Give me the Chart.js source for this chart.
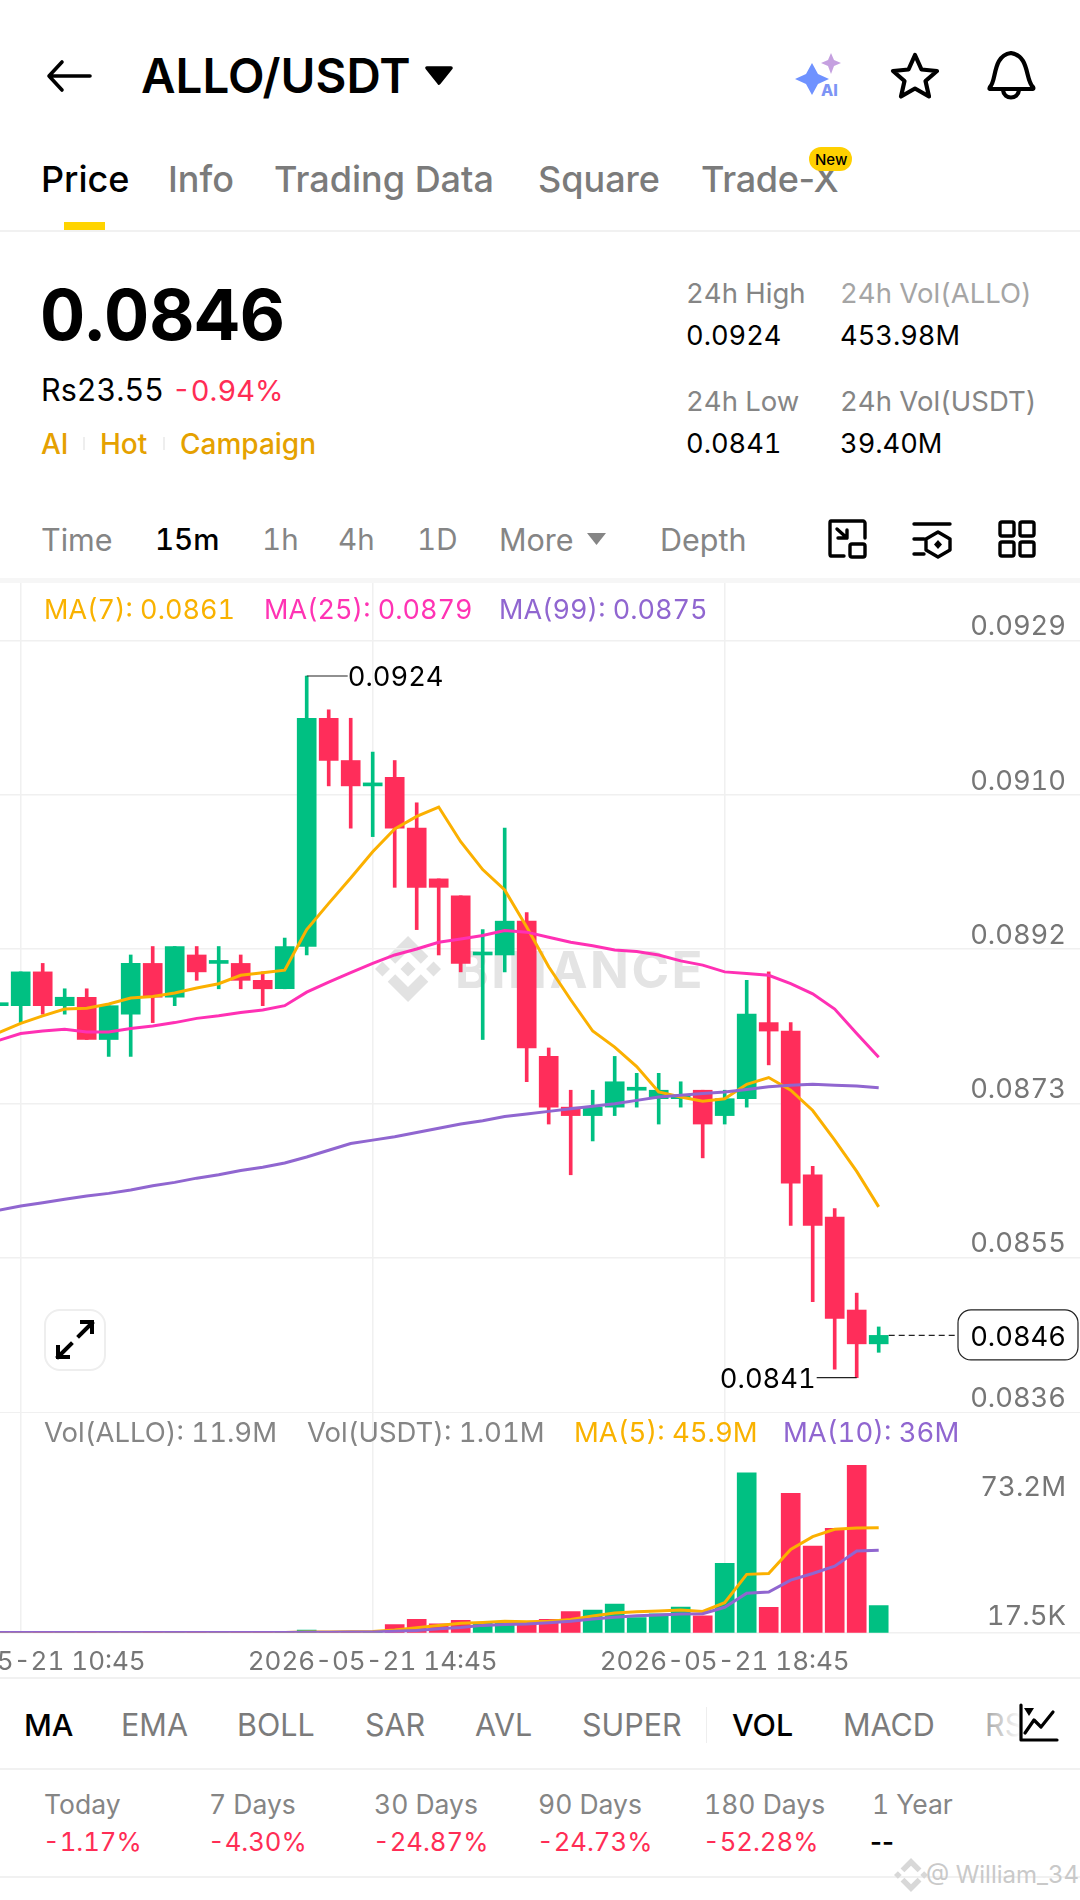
<!DOCTYPE html>
<html>
<head>
<meta charset="utf-8">
<title>ALLO/USDT</title>
<script src="https://cdn.jsdelivr.net/npm/chart.js@4"></script>
<style>
html, body { margin: 0; padding: 0; background: #fff; }
body { width: 1080px; height: 1900px; position: relative; overflow: hidden; font-family: Inter, sans-serif; font-variant-numeric: tabular-nums; }
.t { position: absolute; white-space: nowrap; transform: translateY(-50%); line-height: 1; }
.tab { font-size: 36px; color: #7b7b7b; top: 179px; font-weight: 500; }
.sm { font-size: 27.5px; }
.num { font-size: 27.2px; }
.gray { color: #858585; }
.tf { font-size: 29.5px; top: 540px; color: #858585; }
.tw { font-size: 30.5px; }
.ind { font-size: 30.5px; top: 1725px; color: #7b7b7b; }
.pl { font-size: 26.5px; top: 1804px; color: #858585; }
.pv { font-size: 25.7px; top: 1842px; color: #ff2d55; }
.vl { font-size: 27.5px; top: 1433px; }
.ml { font-size: 27px; top: 609px; }
.sep { position: absolute; left: 0; width: 1080px; height: 2px; background: #f1f1f1; }
.t.k { color: #000; }
svg { position: absolute; overflow: visible; }
canvas { position: absolute; left: 0; }
</style>
</head>
<body>
<!-- header -->
<svg style="left:0;top:0" width="1080" height="240" fill="none" stroke="#000" stroke-width="3.6" stroke-linecap="round" stroke-linejoin="round">
  <path d="M49 76H90M62 62L49 76L62 90"/>
  <path d="M427 68H451L439 83Z" fill="#000"/>
  <path d="M915 55L921.5 69.5L937 71L925.5 81L929 96.5L915 88.5L901 96.5L904.5 81L893 71L908.5 69.5Z" stroke-width="4.2"/>
  <path d="M990 87C997 80 992 56 1011 53C1030 56 1025 80 1033 87C1034 89 1033 89 1031 89H992C989 89 989 89 990 87Z" stroke-width="4.2"/>
  <path d="M1003 90C1004 100 1018 100 1019 90" stroke-width="4.2"/>
  <path d="M812 63L818 74L829 79L818 84L812 95L806 84L795 79L806 74Z" fill="#6f92ff" stroke="none"/>
  <path d="M831 53L834 60L841 63L834 66L831 74L828 66L821 63L828 60Z" fill="#c5a0e0" stroke="none"/>
</svg>
<span class="t" style="left:821px;top:90px;font-size:16px;font-weight:800;color:#7d94f5;">AI</span>
<span class="t k" style="left:141px;top:76px;font-size:47.5px;font-weight:600;">ALLO/USDT</span>

<span class="t tab k" style="left:41px;">Price</span>
<span class="t tab" style="left:168px;">Info</span>
<span class="t tab" style="left:274px;">Trading Data</span>
<span class="t tab" style="left:538px;">Square</span>
<span class="t tab" style="left:701px;font-variant-numeric:normal;font-feature-settings:'tnum' 0;letter-spacing:-0.3px;">Trade-X</span>
<div style="position:absolute;left:809px;top:147px;width:43px;height:24px;border-radius:12px;background:#ffd000;"></div>
<span class="t k" style="left:815px;top:159px;font-size:15px;font-weight:500;">New</span>
<div style="position:absolute;left:64px;top:222px;width:41px;height:8px;background:#ffd400;"></div>
<div class="sep" style="top:230px;"></div>

<!-- price block -->
<span class="t k" style="left:40px;top:315px;font-size:70px;font-weight:700;">0.0846</span>
<span class="t k" style="left:41px;top:390px;font-size:30.5px;">Rs23.55</span>
<span class="t" style="left:172px;top:390px;font-size:29px;color:#ff2d55;">-0.94%</span>
<span class="t" style="left:41px;top:444px;font-size:28px;font-weight:500;color:#e5a100;">AI</span>
<span class="t" style="left:100px;top:444px;font-size:28px;font-weight:500;color:#e5a100;">Hot</span>
<span class="t" style="left:180px;top:444px;font-size:28px;font-weight:500;color:#e5a100;">Campaign</span>
<div style="position:absolute;left:83px;top:437px;width:2px;height:13px;background:#eee;"></div>
<div style="position:absolute;left:163px;top:437px;width:2px;height:13px;background:#eee;"></div>

<span class="t sm gray" style="left:686px;top:294px;">24h High</span>
<span class="t sm" style="left:840px;top:294px;color:#a5a5a5;">24h Vol(ALLO)</span>
<span class="t num k" style="left:686px;top:336px;">0.0924</span>
<span class="t num k" style="left:840px;top:336px;">453.98M</span>
<span class="t sm gray" style="left:686px;top:402px;">24h Low</span>
<span class="t sm gray" style="left:840px;top:402px;">24h Vol(USDT)</span>
<span class="t num k" style="left:686px;top:444px;">0.0841</span>
<span class="t num k" style="left:840px;top:444px;">39.40M</span>

<!-- timeframes -->
<span class="t tf tw" style="left:41px;">Time</span>
<span class="t tf k" style="left:155px;font-weight:500;">15m</span>
<span class="t tf" style="left:262px;">1h</span>
<span class="t tf" style="left:338px;">4h</span>
<span class="t tf" style="left:417px;">1D</span>
<span class="t tf tw" style="left:499px;">More</span>
<span class="t tf tw" style="left:660px;">Depth</span>
<svg style="left:0;top:500px" width="1080" height="70" fill="none" stroke="#000" stroke-width="3.4" stroke-linecap="round" stroke-linejoin="round">
  <path d="M587 33H606L596.5 45Z" fill="#858585" stroke="none"/>
  <path d="M844 56H831C830 56 830 55 830 54V23C830 22 830 21 831 21H863C864 21 865 22 865 23V38"/>
  <rect x="850" y="44" width="15" height="13" rx="2"/>
  <path d="M837 29L847 38M847 30V38H838"/>
  <path d="M914 24H950M914 39H924M914 54H924"/>
  <path d="M938 32L950 39V50L938 57L926 50V39Z"/>
  <path d="M938 40L942 44.500L938 49L934 44.500Z" fill="#000" stroke="none"/>
  <rect x="1000" y="22" width="14" height="14" rx="2"/><rect x="1020" y="22" width="14" height="14" rx="2"/>
  <rect x="1000" y="42" width="14" height="14" rx="2"/><rect x="1020" y="42" width="14" height="14" rx="2"/>
</svg>
<div style="position:absolute;left:0;top:578px;width:1080px;height:5px;background:#f6f6f6;"></div>

<!-- watermark under the candles -->
<svg style="left:375px;top:936px" width="66" height="66" viewBox="0 0 126.61 126.61" fill="#e2e2e2">
  <path d="M38.73 53.2l24.59-24.58 24.6 24.6 14.3-14.31L63.32 0 24.43 38.9z M0 63.31l14.3-14.31 14.31 14.31-14.31 14.3z M38.73 73.41l24.59 24.59 24.6-24.6 14.31 14.29-38.9 38.91-38.91-38.88z M98 63.31l14.3-14.31 14.31 14.3-14.31 14.32z M77.83 63.3L63.32 48.78 52.59 59.51l-1.24 1.23-2.54 2.54 14.51 14.5 14.51-14.47z"/>
</svg>
<span class="t" style="left:455px;top:969px;font-size:51px;font-weight:700;letter-spacing:2.5px;color:#e4e4e4;">BINANCE</span>

<canvas id="priceChart" width="1080" height="830" style="top:583px;width:1080px;height:830px;"></canvas>
<canvas id="volumeChart" width="1080" height="267" style="top:1413px;width:1080px;height:267px;"></canvas>

<span class="t ml" style="left:44px;color:#f9b200;">MA(7): 0.0861</span>
<span class="t ml" style="left:264px;color:#ff33b4;">MA(25): 0.0879</span>
<span class="t ml" style="left:499px;color:#9066d0;">MA(99): 0.0875</span>

<div style="position:absolute;left:44px;top:1309px;width:58px;height:58px;border:2.5px solid #eeeeee;border-radius:16px;background:#fff;"></div>
<svg style="left:0;top:1300px" width="140" height="80" fill="none" stroke="#000" stroke-width="4" stroke-linecap="square">
  <path d="M79 36L92 23M82 22H92V32M71 44L58 57M58 47V57H68"/>
</svg>

<span class="t vl gray" style="left:44px;">Vol(ALLO): 11.9M</span>
<span class="t vl gray" style="left:307px;">Vol(USDT): 1.01M</span>
<span class="t vl" style="left:574px;color:#f9b200;">MA(5): 45.9M</span>
<span class="t vl" style="left:783px;color:#9066d0;">MA(10): 36M</span>

<div class="sep" style="top:1677px;"></div>
<!-- indicator row -->
<span class="t ind k" style="left:24px;font-weight:500;">MA</span>
<span class="t ind" style="left:121px;">EMA</span>
<span class="t ind" style="left:237px;">BOLL</span>
<span class="t ind" style="left:365px;">SAR</span>
<span class="t ind" style="left:475px;">AVL</span>
<span class="t ind" style="left:582px;">SUPER</span>
<div style="position:absolute;left:706px;top:1707px;width:1px;height:36px;background:#eee;"></div>
<span class="t ind k" style="left:732px;font-weight:500;">VOL</span>
<span class="t ind" style="left:843px;">MACD</span>
<span class="t ind" style="left:985px;">RSI</span>
<div style="position:absolute;left:985px;top:1700px;width:95px;height:50px;background:linear-gradient(90deg,rgba(255,255,255,.3),#fff 38%);"></div>
<svg style="left:0;top:1700px" width="1080" height="50" fill="none" stroke="#000" stroke-width="3.2" stroke-linecap="round" stroke-linejoin="round">
  <path d="M1021 5V40H1057"/>
  <path d="M1025 33L1034 20L1041 27L1053 12"/>
  <path d="M1024 8H1034L1029 16Z" fill="#000" stroke="none"/>
</svg>
<div class="sep" style="top:1768px;"></div>

<!-- period changes -->
<span class="t pl" style="left:44px;">Today</span><span class="t pv" style="left:43px;">-1.17%</span>
<span class="t pl" style="left:209px;">7 Days</span><span class="t pv" style="left:208px;">-4.30%</span>
<span class="t pl" style="left:374px;">30 Days</span><span class="t pv" style="left:373px;">-24.87%</span>
<span class="t pl" style="left:538px;">90 Days</span><span class="t pv" style="left:537px;">-24.73%</span>
<span class="t pl" style="left:704px;">180 Days</span><span class="t pv" style="left:703px;">-52.28%</span>
<span class="t pl" style="left:872px;">1 Year</span><span class="t pv k" style="left:870px;font-weight:600;font-feature-settings:'tnum' 0;font-variant-numeric:normal;">--</span>
<div class="sep" style="top:1876px;"></div>
<svg style="left:894px;top:1858px" width="34" height="34" viewBox="0 0 126.61 126.61" fill="#d8d8d8">
  <path d="M38.73 53.2l24.59-24.58 24.6 24.6 14.3-14.31L63.32 0 24.43 38.9z M0 63.31l14.3-14.31 14.31 14.31-14.31 14.3z M38.73 73.41l24.59 24.59 24.6-24.6 14.31 14.29-38.9 38.91-38.91-38.88z M98 63.31l14.3-14.31 14.31 14.3-14.31 14.32z"/>
</svg>
<span class="t" style="left:926px;top:1875px;font-size:24px;color:#c9c9c9;">@ William_34</span>

<script>
// 15m candles, oldest first (the first one is cut off by the left edge)
const opens = [0.0885, 0.0885, 0.0889, 0.0885, 0.0886, 0.0881, 0.0884, 0.0890, 0.0886, 0.0891, 0.0890, 0.0890, 0.0888, 0.0887,
    0.0892, 0.0919, 0.0914, 0.0911, 0.0912, 0.0906, 0.0900, 0.0898, 0.0891, 0.0891, 0.0895, 0.0879, 0.0873, 0.0872,
    0.0873, 0.0875, 0.0874, 0.0874, 0.0875, 0.0872, 0.0874, 0.0883, 0.0882, 0.0865, 0.0860, 0.0849, 0.0845];
const highs = [0.0885, 0.0889, 0.0890, 0.0887, 0.0887, 0.0885, 0.0891, 0.0892, 0.0892, 0.0892, 0.0892, 0.0891, 0.0889, 0.0893,
    0.0924, 0.0920, 0.0919, 0.0915, 0.0914, 0.0909, 0.0900, 0.0898, 0.0894, 0.0906, 0.0896, 0.0880, 0.0875, 0.0875,
    0.0879, 0.0877, 0.0877, 0.0876, 0.0875, 0.0875, 0.0888, 0.0889, 0.0883, 0.0866, 0.0861, 0.0851, 0.0847];
const lows = [0.0885, 0.0883, 0.0884, 0.0884, 0.0881, 0.0879, 0.0879, 0.0883, 0.0885, 0.0888, 0.0887, 0.0887, 0.0885, 0.0887,
    0.0891, 0.0911, 0.0906, 0.0905, 0.0899, 0.0894, 0.0891, 0.0889, 0.0881, 0.0889, 0.0876, 0.0871, 0.0865, 0.0869,
    0.0872, 0.0873, 0.0871, 0.0873, 0.0867, 0.0871, 0.0873, 0.0878, 0.0859, 0.0850, 0.0842, 0.0841, 0.0844];
const closes = [0.0885, 0.0889, 0.0885, 0.0886, 0.0881, 0.0885, 0.0890, 0.0886, 0.0892, 0.0889, 0.0890, 0.0888, 0.0887, 0.0892,
    0.0919, 0.0914, 0.0911, 0.0911, 0.0906, 0.0899, 0.0899, 0.0890, 0.0891, 0.0895, 0.0880, 0.0873, 0.0872, 0.0873,
    0.0876, 0.0875, 0.0875, 0.0874, 0.0871, 0.0874, 0.0884, 0.0882, 0.0864, 0.0859, 0.0848, 0.0845, 0.0846];
const ma7 = [0.08818, 0.08829, 0.08838, 0.08846, 0.08847, 0.08852, 0.08859, 0.08861, 0.08865, 0.08871, 0.08876, 0.08886, 0.08889, 0.08892,
    0.08940, 0.08971, 0.09001, 0.09032, 0.09059, 0.09074, 0.09085, 0.09044, 0.09011, 0.08987, 0.08943, 0.08896, 0.08857, 0.08820,
    0.08801, 0.08778, 0.08748, 0.08742, 0.08737, 0.08740, 0.08757, 0.08765, 0.08750, 0.08726, 0.08691, 0.08654, 0.08612];
const ma25 = [0.08809, 0.08817, 0.08820, 0.08822, 0.08819, 0.08819, 0.08823, 0.08826, 0.08830, 0.08835, 0.08838, 0.08842, 0.08845, 0.08850,
    0.08866, 0.08878, 0.08889, 0.08900, 0.08910, 0.08917, 0.08925, 0.08929, 0.08933, 0.08939, 0.08937, 0.08931, 0.08925, 0.08921,
    0.08916, 0.08914, 0.08910, 0.08903, 0.08898, 0.08890, 0.08888, 0.08886, 0.08876, 0.08864, 0.08846, 0.08817, 0.08789];
const ma99 = [0.08608, 0.08613, 0.08617, 0.08621, 0.08625, 0.08628, 0.08632, 0.08637, 0.08641, 0.08646, 0.08650, 0.08655, 0.08659, 0.08664,
    0.08671, 0.08679, 0.08687, 0.08691, 0.08695, 0.08700, 0.08705, 0.08710, 0.08714, 0.08719, 0.08722, 0.08725, 0.08728, 0.08731,
    0.08734, 0.08738, 0.08742, 0.08744, 0.08746, 0.08748, 0.08751, 0.08754, 0.08756, 0.08757, 0.08756, 0.08755, 0.08753];
// volume in millions
const volumes = [0.05, 0.05, 0.03, 0.05, 0.06, 0.05, 0.08, 0.07, 0.06, 0.05, 0.04, 0.05, 0.05, 0.12,
    1.2, 0.3, 0.4, 0.5, 3.6, 5.8, 3.9, 5.4, 4.4, 4.8, 4.5, 5.8, 9.2, 9.9,
    12.5, 6.6, 8.2, 11.2, 7.4, 30.3, 69.9, 11.1, 60.9, 37.9, 45.6, 73.2, 11.9];
const volMa5 = [0.05, 0.05, 0.05, 0.05, 0.05, 0.05, 0.06, 0.06, 0.06, 0.06, 0.06, 0.06, 0.05, 0.07,
    0.3, 0.35, 0.4, 0.5, 1.2, 2.2, 3.1, 4.1, 4.5, 5.0, 4.8, 5.0, 5.8, 7.3,
    8.6, 9.2, 9.5, 9.9, 9.3, 13.1, 25.5, 25.9, 36.4, 42.0, 45.2, 45.75, 45.9];
const volMa10 = [0.06, 0.06, 0.06, 0.06, 0.06, 0.06, 0.06, 0.06, 0.06, 0.06, 0.06, 0.06, 0.06, 0.07,
    0.2, 0.25, 0.3, 0.35, 0.6, 1.0, 1.75, 2.3, 3.2, 3.6, 3.8, 4.4, 5.0, 6.0,
    6.8, 7.4, 7.7, 8.2, 8.3, 11.1, 17.3, 17.8, 23.0, 25.9, 29.1, 35.7, 36.0];

const priceTickValues = [0.09282, 0.09099, 0.08917, 0.08734, 0.08552, 0.08369];
const priceTickLabels = ['0.0929', '0.0910', '0.0892', '0.0873', '0.0855', '0.0836'];
// the app prints these two beside, not on, their levels
const volumeTickValues = [63.4, 6.8];
const volumeTickLabels = ['73.2M', '17.5K'];
const timeTickIndexes = [1, 17, 33];
const timeTickLabels = ['2026-05-21 10:45', '2026-05-21 14:45', '2026-05-21 18:45'];

const GREEN = '#00c082';
const RED = '#ff2d5a';
const ORANGE = '#fbb000';
const PINK = '#ff30b4';
const PURPLE = '#9066d0';
const GRID = '#f0f0f0';
const TICK_COLOR = '#767676';

const candleColors = closes.map((c, i) => c >= opens[i] ? GREEN : RED);
const points = (values) => values.map((y, x) => ({ x, y }));

function lineSet(values, color, width) {
    return { type: 'line', data: points(values), borderColor: color, borderWidth: width, pointRadius: 0, tension: 0, order: 0 };
}

// one candle is 22px wide, the left edge sits just past the first index
const xAxis = {
    type: 'linear',
    min: 0.059,
    max: 49.15,
    offset: false,
    grid: { color: GRID, lineWidth: 1.5, offset: false, drawTicks: false },
    border: { display: false },
    afterBuildTicks: (axis) => { axis.ticks = timeTickIndexes.map((value) => ({ value })); },
    ticks: { display: false }
};

function noPadding(axis) {
    axis.paddingLeft = axis.paddingRight = axis.paddingTop = axis.paddingBottom = 0;
}

function mirroredAxis(axis) {
    noPadding(axis);
    axis.width = 0;
}

Chart.defaults.font.family = 'Inter';
Chart.defaults.animation = false;

// min/max labels and the current price box
const priceMarks = {
    id: 'priceMarks',
    afterDraw(chart) {
        const { ctx, scales: { x, y } } = chart;
        ctx.save();
        ctx.font = '27.3px Inter';
        ctx.fillStyle = '#000';
        ctx.strokeStyle = '#222';
        ctx.lineWidth = 1.2;
        ctx.textBaseline = 'middle';

        const highX = x.getPixelForValue(14), highY = y.getPixelForValue(0.0924);
        ctx.beginPath(); ctx.moveTo(highX, highY); ctx.lineTo(highX + 41, highY); ctx.stroke();
        ctx.textAlign = 'left';
        ctx.fillText('0.0924', highX + 41, highY + 2);

        const lowX = x.getPixelForValue(39), lowY = y.getPixelForValue(0.0841);
        ctx.beginPath(); ctx.moveTo(lowX, lowY); ctx.lineTo(lowX - 40, lowY); ctx.stroke();
        ctx.textAlign = 'right';
        ctx.fillText('0.0841', lowX - 41, lowY + 2);

        const lastY = y.getPixelForValue(0.0846);
        ctx.setLineDash([6, 4]);
        ctx.beginPath(); ctx.moveTo(x.getPixelForValue(40) + 10, lastY); ctx.lineTo(958, lastY); ctx.stroke();
        ctx.setLineDash([]);
        ctx.beginPath();
        ctx.roundRect(958, lastY - 25.5, 120, 50, 13);
        ctx.fillStyle = '#fff';
        ctx.fill();
        ctx.stroke();
        ctx.fillStyle = '#000';
        ctx.fillText('0.0846', 1066, lastY + 2);
        ctx.restore();
    }
};

new Chart(document.querySelector('#priceChart').getContext('2d'), {
    type: 'bar',
    data: {
        datasets: [
            lineSet(ma99, PURPLE, 3),
            lineSet(ma25, PINK, 3),
            lineSet(ma7, ORANGE, 3),
            {
                data: opens.map((o, i) => ({ x: i, y: [o, closes[i]] })),
                backgroundColor: candleColors,
                barThickness: 19,
                minBarLength: 3,
                grouped: false,
                order: 1
            },
            {
                data: highs.map((h, i) => ({ x: i, y: [lows[i], h] })),
                backgroundColor: candleColors,
                barThickness: 3,
                grouped: false,
                order: 2
            }
        ]
    },
    options: {
        responsive: false,
        layout: { padding: 0 },
        plugins: { legend: { display: false }, tooltip: { enabled: false } },
        scales: {
            x: xAxis,
            y: {
                position: 'right',
                min: 0.083682,
                max: 0.0935,
                afterFit: mirroredAxis,
                afterBuildTicks: (axis) => { axis.ticks = priceTickValues.map((value) => ({ value })); },
                grid: { color: GRID, lineWidth: 1.5, drawTicks: false },
                border: { display: false },
                ticks: {
                    mirror: true,
                    padding: -14,
                    labelOffset: -13.5,
                    color: TICK_COLOR,
                    font: { size: 27.3 },
                    callback: (v, i) => priceTickLabels[i]
                }
            }
        }
    },
    plugins: [priceMarks]
});

new Chart(document.querySelector('#volumeChart').getContext('2d'), {
    type: 'bar',
    data: {
        datasets: [
            lineSet(volMa10, PURPLE, 3),
            lineSet(volMa5, ORANGE, 3),
            {
                data: points(volumes),
                backgroundColor: candleColors,
                barThickness: 19,
                grouped: false,
                order: 1
            }
        ]
    },
    options: {
        responsive: false,
        layout: { padding: 0 },
        plugins: { legend: { display: false }, tooltip: { enabled: false } },
        scales: {
            x: {
                ...xAxis,
                afterFit: (axis) => { noPadding(axis); axis.height = 47.3; },
                border: { display: true, color: GRID, width: 1.5 },
                ticks: {
                    display: true,
                    autoSkip: false,
                    maxRotation: 0,
                    padding: 13.5,
                    color: TICK_COLOR,
                    font: { size: 26 },
                    callback: (v, i) => timeTickLabels[i]
                }
            },
            y: {
                position: 'right',
                min: 0,
                max: 96.05,
                afterFit: mirroredAxis,
                afterBuildTicks: (axis) => { axis.ticks = volumeTickValues.map((value) => ({ value })); },
                grid: { display: false },
                border: { display: false },
                ticks: {
                    mirror: true,
                    padding: -14,
                    color: TICK_COLOR,
                    font: { size: 27.5 },
                    callback: (v, i) => volumeTickLabels[i]
                }
            }
        }
    }
});
</script>
</body>
</html>
